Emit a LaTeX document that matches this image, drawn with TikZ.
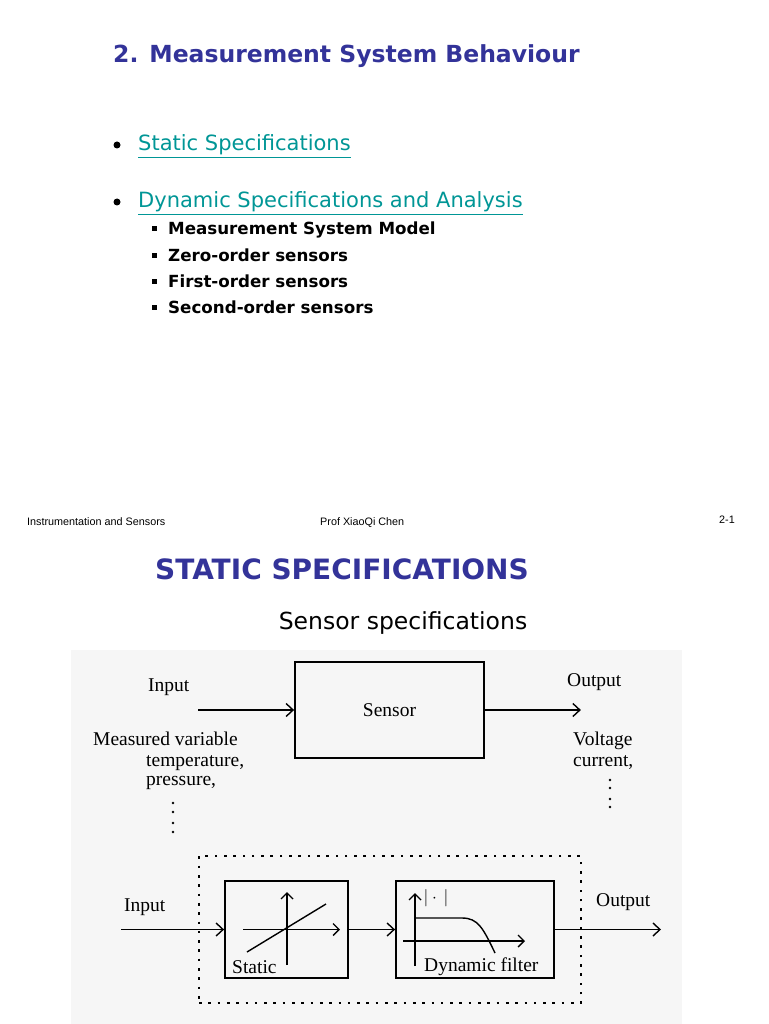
\documentclass[tikz,border=0pt]{standalone}
\usepackage{fontspec}
\setmainfont{Liberation Serif}
\newfontfamily\comicfont{DejaVu Sans}
\newfontfamily\footfont{Liberation Sans}
\usetikzlibrary{arrows.meta,calc,positioning}
\definecolor{titleblue}{RGB}{51,51,153}
\definecolor{linkteal}{RGB}{0,150,150}
\definecolor{scangray}{RGB}{246,246,246}

\begin{document}
\begin{tikzpicture}[x=1pt, y=-1pt,
  slidetitle/.style={font=\comicfont\bfseries\fontsize{23.5}{27}\selectfont, text=titleblue, inner sep=0pt, anchor=base west},
  link/.style={font=\comicfont\fontsize{21}{25}\selectfont, text=linkteal, inner sep=0pt, anchor=base west},
  subitem/.style={font=\comicfont\bfseries\fontsize{16.7}{20}\selectfont, inner sep=0pt, anchor=base west},
  foot/.style={font=\footfont\fontsize{10.8}{13}\selectfont, inner sep=0pt, anchor=base west},
  bigdot/.style={circle, fill, inner sep=0pt, minimum size=7pt},
  square/.style={rectangle, fill, inner sep=0pt, minimum size=5pt},
  lbl/.style={font=\fontsize{19.5}{23}\selectfont, inner sep=0pt, anchor=base west},
  blk/.style={draw, line width=1.8pt, inner sep=0pt},
  sig/.style={line width=1.4pt, -{Straight Barb[length=7pt, width=13pt, line width=1.4pt]}},
  axis/.style={line width=1.4pt, -{Straight Barb[length=6pt, width=12pt, line width=1.4pt]}},
  dotbox/.style={draw, line width=2.6pt, dash pattern=on 2.6pt off 6.7pt, inner sep=0pt}]

\useasboundingbox (0,0) rectangle (768,1024);
\fill[white] (0,0) rectangle (768,1024);
\fill[scangray] (71,650) rectangle (682,1024);

% Slide 2-1
\node[slidetitle] (title) at (113,63) {2. Measurement System Behaviour};

\node[bigdot] (b1) at (117,145) {};
\node[link] (spec1) at (138,151) {\underline{Static Specifications}};
\node[bigdot] (b2) at (117,202) {};
\node[link] (spec2) at (138,208) {\underline{Dynamic Specifications and Analysis}};

\node[square] (s1) at (154,229) {};
\node[subitem] (model) at (168,235) {Measurement System Model};
\node[square] (s2) at (154,255) {};
\node[subitem] (zero) at (168,261) {Zero-order sensors};
\node[square] (s3) at (154,281) {};
\node[subitem] (first) at (168,287) {First-order sensors};
\node[square] (s4) at (154,307) {};
\node[subitem] (second) at (168,313) {Second-order sensors};

% Footer
\node[foot] (course) at (27,525) {Instrumentation and Sensors};
\node[foot] (prof) at (320,525) {Prof XiaoQi Chen};
\node[foot, anchor=base east] (page) at (735,523) {2-1};

% Slide 2-2
\node[slidetitle, font=\comicfont\bfseries\fontsize{28}{32}\selectfont, anchor=base] (stitle) at (342,579) {STATIC SPECIFICATIONS};
\node[font=\comicfont\fontsize{23.5}{28}\selectfont, inner sep=0pt, anchor=base] (sspec) at (403,629) {Sensor specifications};

% Sensor block
\node[blk, minimum width=189pt, minimum height=96pt, font=\fontsize{19.5}{23}\selectfont] (sensor) at (389.5,710) {Sensor};
\coordinate[left=96pt of sensor.west] (in1);
\coordinate[right=96pt of sensor.east] (out1);
\draw[sig] (in1) -- (sensor.west);
\draw[sig] (sensor.east) -- (out1);

\node[lbl] (inlbl) at (148,691) {Input};
\node[lbl] (meas) at (93,745) {Measured variable};
\node[lbl] (temp) at (146,766) {temperature,};
\node[lbl] (press) at (146,785) {pressure,};
\foreach \y in {803,812,823,832} \fill (173,\y) circle (1.3pt);

\node[lbl] (outlbl) at (567,686) {Output};
\node[lbl] (volt) at (573,745) {Voltage};
\node[lbl] (curr) at (573,766) {current,};
\foreach \y in {780,788,799,807} \fill (610,\y) circle (1.3pt);

% Model: static + dynamic filter
\node[dotbox, minimum width=382pt, minimum height=147pt] (sysmodel) at (390,929.5) {};
\node[blk, minimum width=123pt, minimum height=97pt] (static) at (286.5,929.5) {};
\node[blk, minimum width=158pt, minimum height=97pt] (dyn) at (475,929.5) {};
\coordinate (in2) at (121,929.5);
\coordinate (out2) at (661,929.5);
\draw[sig] (in2) -- (static.west);
\draw[sig] (static.east) -- (dyn.west);
\draw[sig] (dyn.east) -- (out2);

\node[lbl] (inlbl2) at (124,911) {Input};
\node[lbl] (outlbl2) at (596,906) {Output};

% static characteristic
\draw[axis] (243,929.5) -- (340,929.5);
\draw[axis] (287,965) -- (287,892);
\draw[line width=1.4pt] (247,952) -- (326,904);
\node[lbl] (statlbl) at (232,973) {Static};

% dynamic filter
\draw[axis] (415,966) -- (415,893);
\draw[axis] (403,941) -- (525,941);
\draw[line width=1.4pt] (415,918) -- (462,918) .. controls (478,918) and (483,928) .. (495,953);
\node[font=\fontsize{18}{20}\selectfont, inner sep=0pt] (gain) at (436,898) {$|\cdot\,|$};
\node[lbl] (dynlbl) at (424,971) {Dynamic filter};

\end{tikzpicture}
\end{document}
